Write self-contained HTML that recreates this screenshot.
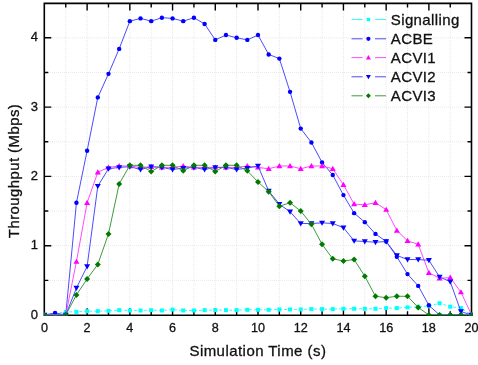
<!DOCTYPE html><html><head><meta charset="utf-8"><style>html,body{margin:0;padding:0;background:#fff;width:478px;height:365px;overflow:hidden}svg{display:block}text{font-family:"Liberation Sans",sans-serif;fill:#111;stroke:#111;stroke-width:0.3px}svg{will-change:transform}</style></head><body>
<svg width="478" height="365" viewBox="0 0 478 365">
<rect width="478" height="365" fill="#fff"/>
<path d="M65.76,4V314 M87.12,4V314 M108.48,4V314 M129.84,4V314 M151.20,4V314 M172.56,4V314 M193.92,4V314 M215.28,4V314 M236.64,4V314 M258.00,4V314 M279.36,4V314 M300.72,4V314 M322.08,4V314 M343.44,4V314 M364.80,4V314 M386.16,4V314 M407.52,4V314 M428.88,4V314 M450.24,4V314 M46,280.35H471 M46,245.70H471 M46,211.05H471 M46,176.40H471 M46,141.75H471 M46,107.10H471 M46,72.45H471 M46,37.80H471" stroke="#e8e8e8" stroke-width="1" stroke-dasharray="1 1" fill="none"/>
<path d="M44.3,3.4V315.3H471.5V3.4Z" fill="none" stroke="#000" stroke-width="1.6"/>
<path d="M65.76,315.3V311.3 M65.76,3.4V7.4 M87.12,315.3V308.3 M87.12,3.4V10.4 M108.48,315.3V311.3 M108.48,3.4V7.4 M129.84,315.3V308.3 M129.84,3.4V10.4 M151.20,315.3V311.3 M151.20,3.4V7.4 M172.56,315.3V308.3 M172.56,3.4V10.4 M193.92,315.3V311.3 M193.92,3.4V7.4 M215.28,315.3V308.3 M215.28,3.4V10.4 M236.64,315.3V311.3 M236.64,3.4V7.4 M258.00,315.3V308.3 M258.00,3.4V10.4 M279.36,315.3V311.3 M279.36,3.4V7.4 M300.72,315.3V308.3 M300.72,3.4V10.4 M322.08,315.3V311.3 M322.08,3.4V7.4 M343.44,315.3V308.3 M343.44,3.4V10.4 M364.80,315.3V311.3 M364.80,3.4V7.4 M386.16,315.3V308.3 M386.16,3.4V10.4 M407.52,315.3V311.3 M407.52,3.4V7.4 M428.88,315.3V308.3 M428.88,3.4V10.4 M450.24,315.3V311.3 M450.24,3.4V7.4 M44.3,280.35H48.3 M471.5,280.35H467.5 M44.3,245.70H51.3 M471.5,245.70H464.5 M44.3,211.05H48.3 M471.5,211.05H467.5 M44.3,176.40H51.3 M471.5,176.40H464.5 M44.3,141.75H48.3 M471.5,141.75H467.5 M44.3,107.10H51.3 M471.5,107.10H464.5 M44.3,72.45H48.3 M471.5,72.45H467.5 M44.3,37.80H51.3 M471.5,37.80H464.5" stroke="#000" stroke-width="1.4" fill="none"/>
<defs><clipPath id="cp"><rect x="44" y="2" width="429" height="313.5"/></clipPath></defs><g clip-path="url(#cp)">
<polyline points="44.40,315.00 55.08,313.61 65.76,311.88 76.44,311.88 87.12,311.19 97.80,311.19 108.48,310.84 119.16,310.15 129.84,310.50 140.52,310.50 151.20,310.15 161.88,310.50 172.56,309.59 183.24,310.50 193.92,310.50 204.60,310.15 215.28,310.15 225.96,310.15 236.64,310.15 247.32,309.80 258.00,309.80 268.68,309.80 279.36,309.46 290.04,309.46 300.72,309.46 311.40,309.11 322.08,309.11 332.76,309.11 343.44,308.76 354.12,308.76 364.80,308.76 375.48,308.76 386.16,308.07 396.84,308.07 407.52,307.38 418.20,306.68 428.88,305.99 439.56,303.22 450.24,306.68 460.92,308.07 471.60,315.00" fill="none" stroke="#33ffff" stroke-width="1" stroke-dasharray="3 2"/>
<rect x="42.40" y="313.00" width="4" height="4" fill="#00ffff"/>
<rect x="53.08" y="311.61" width="4" height="4" fill="#00ffff"/>
<rect x="63.76" y="309.88" width="4" height="4" fill="#00ffff"/>
<rect x="74.44" y="309.88" width="4" height="4" fill="#00ffff"/>
<rect x="85.12" y="309.19" width="4" height="4" fill="#00ffff"/>
<rect x="95.80" y="309.19" width="4" height="4" fill="#00ffff"/>
<rect x="106.48" y="308.84" width="4" height="4" fill="#00ffff"/>
<rect x="117.16" y="308.15" width="4" height="4" fill="#00ffff"/>
<rect x="127.84" y="308.50" width="4" height="4" fill="#00ffff"/>
<rect x="138.52" y="308.50" width="4" height="4" fill="#00ffff"/>
<rect x="149.20" y="308.15" width="4" height="4" fill="#00ffff"/>
<rect x="159.88" y="308.50" width="4" height="4" fill="#00ffff"/>
<rect x="170.56" y="307.59" width="4" height="4" fill="#00ffff"/>
<rect x="181.24" y="308.50" width="4" height="4" fill="#00ffff"/>
<rect x="191.92" y="308.50" width="4" height="4" fill="#00ffff"/>
<rect x="202.60" y="308.15" width="4" height="4" fill="#00ffff"/>
<rect x="213.28" y="308.15" width="4" height="4" fill="#00ffff"/>
<rect x="223.96" y="308.15" width="4" height="4" fill="#00ffff"/>
<rect x="234.64" y="308.15" width="4" height="4" fill="#00ffff"/>
<rect x="245.32" y="307.80" width="4" height="4" fill="#00ffff"/>
<rect x="256.00" y="307.80" width="4" height="4" fill="#00ffff"/>
<rect x="266.68" y="307.80" width="4" height="4" fill="#00ffff"/>
<rect x="277.36" y="307.46" width="4" height="4" fill="#00ffff"/>
<rect x="288.04" y="307.46" width="4" height="4" fill="#00ffff"/>
<rect x="298.72" y="307.46" width="4" height="4" fill="#00ffff"/>
<rect x="309.40" y="307.11" width="4" height="4" fill="#00ffff"/>
<rect x="320.08" y="307.11" width="4" height="4" fill="#00ffff"/>
<rect x="330.76" y="307.11" width="4" height="4" fill="#00ffff"/>
<rect x="341.44" y="306.76" width="4" height="4" fill="#00ffff"/>
<rect x="352.12" y="306.76" width="4" height="4" fill="#00ffff"/>
<rect x="362.80" y="306.76" width="4" height="4" fill="#00ffff"/>
<rect x="373.48" y="306.76" width="4" height="4" fill="#00ffff"/>
<rect x="384.16" y="306.07" width="4" height="4" fill="#00ffff"/>
<rect x="394.84" y="306.07" width="4" height="4" fill="#00ffff"/>
<rect x="405.52" y="305.38" width="4" height="4" fill="#00ffff"/>
<rect x="416.20" y="304.68" width="4" height="4" fill="#00ffff"/>
<rect x="426.88" y="303.99" width="4" height="4" fill="#00ffff"/>
<rect x="437.56" y="301.22" width="4" height="4" fill="#00ffff"/>
<rect x="448.24" y="304.68" width="4" height="4" fill="#00ffff"/>
<rect x="458.92" y="306.07" width="4" height="4" fill="#00ffff"/>
<rect x="469.60" y="313.00" width="4" height="4" fill="#00ffff"/>
<polyline points="44.40,315.00 55.08,312.92 65.76,315.00 76.44,202.73 87.12,150.76 97.80,97.40 108.48,73.84 119.16,48.89 129.84,21.17 140.52,18.40 151.20,21.17 161.88,17.70 172.56,18.40 183.24,21.17 193.92,17.70 204.60,23.94 215.28,39.88 225.96,35.03 236.64,37.80 247.32,39.88 258.00,35.03 268.68,54.43 279.36,58.59 290.04,91.85 300.72,128.58 311.40,142.44 322.08,162.54 332.76,175.01 343.44,195.11 354.12,213.13 364.80,222.14 375.48,233.92 386.16,241.54 396.84,256.79 407.52,274.11 418.20,285.89 428.88,305.30 439.56,315.00 450.24,315.00 460.92,315.00 471.60,315.00" fill="none" stroke="#4b4bff" stroke-width="1"/>
<circle cx="44.40" cy="315.00" r="2.2" fill="#0000ff"/>
<circle cx="55.08" cy="312.92" r="2.2" fill="#0000ff"/>
<circle cx="65.76" cy="315.00" r="2.2" fill="#0000ff"/>
<circle cx="76.44" cy="202.73" r="2.2" fill="#0000ff"/>
<circle cx="87.12" cy="150.76" r="2.2" fill="#0000ff"/>
<circle cx="97.80" cy="97.40" r="2.2" fill="#0000ff"/>
<circle cx="108.48" cy="73.84" r="2.2" fill="#0000ff"/>
<circle cx="119.16" cy="48.89" r="2.2" fill="#0000ff"/>
<circle cx="129.84" cy="21.17" r="2.2" fill="#0000ff"/>
<circle cx="140.52" cy="18.40" r="2.2" fill="#0000ff"/>
<circle cx="151.20" cy="21.17" r="2.2" fill="#0000ff"/>
<circle cx="161.88" cy="17.70" r="2.2" fill="#0000ff"/>
<circle cx="172.56" cy="18.40" r="2.2" fill="#0000ff"/>
<circle cx="183.24" cy="21.17" r="2.2" fill="#0000ff"/>
<circle cx="193.92" cy="17.70" r="2.2" fill="#0000ff"/>
<circle cx="204.60" cy="23.94" r="2.2" fill="#0000ff"/>
<circle cx="215.28" cy="39.88" r="2.2" fill="#0000ff"/>
<circle cx="225.96" cy="35.03" r="2.2" fill="#0000ff"/>
<circle cx="236.64" cy="37.80" r="2.2" fill="#0000ff"/>
<circle cx="247.32" cy="39.88" r="2.2" fill="#0000ff"/>
<circle cx="258.00" cy="35.03" r="2.2" fill="#0000ff"/>
<circle cx="268.68" cy="54.43" r="2.2" fill="#0000ff"/>
<circle cx="279.36" cy="58.59" r="2.2" fill="#0000ff"/>
<circle cx="290.04" cy="91.85" r="2.2" fill="#0000ff"/>
<circle cx="300.72" cy="128.58" r="2.2" fill="#0000ff"/>
<circle cx="311.40" cy="142.44" r="2.2" fill="#0000ff"/>
<circle cx="322.08" cy="162.54" r="2.2" fill="#0000ff"/>
<circle cx="332.76" cy="175.01" r="2.2" fill="#0000ff"/>
<circle cx="343.44" cy="195.11" r="2.2" fill="#0000ff"/>
<circle cx="354.12" cy="213.13" r="2.2" fill="#0000ff"/>
<circle cx="364.80" cy="222.14" r="2.2" fill="#0000ff"/>
<circle cx="375.48" cy="233.92" r="2.2" fill="#0000ff"/>
<circle cx="386.16" cy="241.54" r="2.2" fill="#0000ff"/>
<circle cx="396.84" cy="256.79" r="2.2" fill="#0000ff"/>
<circle cx="407.52" cy="274.11" r="2.2" fill="#0000ff"/>
<circle cx="418.20" cy="285.89" r="2.2" fill="#0000ff"/>
<circle cx="428.88" cy="305.30" r="2.2" fill="#0000ff"/>
<circle cx="439.56" cy="315.00" r="2.2" fill="#0000ff"/>
<circle cx="450.24" cy="315.00" r="2.2" fill="#0000ff"/>
<circle cx="460.92" cy="315.00" r="2.2" fill="#0000ff"/>
<circle cx="471.60" cy="315.00" r="2.2" fill="#0000ff"/>
<polyline points="44.40,315.00 55.08,315.00 65.76,315.00 76.44,261.64 87.12,202.73 97.80,172.24 108.48,167.39 119.16,166.01 129.84,166.01 140.52,167.39 151.20,166.70 161.88,167.39 172.56,167.39 183.24,166.01 193.92,167.39 204.60,167.39 215.28,167.39 225.96,167.39 236.64,167.39 247.32,166.01 258.00,167.39 268.68,168.78 279.36,166.01 290.04,166.01 300.72,168.78 311.40,166.01 322.08,166.01 332.76,168.78 343.44,184.72 354.12,204.12 364.80,204.81 375.48,202.73 386.16,209.66 396.84,230.45 407.52,240.85 418.20,244.31 428.88,272.73 439.56,278.27 450.24,277.58 460.92,292.13 471.60,315.00" fill="none" stroke="#ff4bff" stroke-width="1"/>
<path d="M44.40,312.00L47.40,317.20L41.40,317.20Z" fill="#ff00ff"/>
<path d="M65.76,312.00L68.76,317.20L62.76,317.20Z" fill="#ff00ff"/>
<path d="M76.44,258.64L79.44,263.84L73.44,263.84Z" fill="#ff00ff"/>
<path d="M87.12,199.73L90.12,204.93L84.12,204.93Z" fill="#ff00ff"/>
<path d="M97.80,169.24L100.80,174.44L94.80,174.44Z" fill="#ff00ff"/>
<path d="M108.48,164.39L111.48,169.59L105.48,169.59Z" fill="#ff00ff"/>
<path d="M119.16,163.01L122.16,168.21L116.16,168.21Z" fill="#ff00ff"/>
<path d="M129.84,163.01L132.84,168.21L126.84,168.21Z" fill="#ff00ff"/>
<path d="M140.52,164.39L143.52,169.59L137.52,169.59Z" fill="#ff00ff"/>
<path d="M151.20,163.70L154.20,168.90L148.20,168.90Z" fill="#ff00ff"/>
<path d="M161.88,164.39L164.88,169.59L158.88,169.59Z" fill="#ff00ff"/>
<path d="M172.56,164.39L175.56,169.59L169.56,169.59Z" fill="#ff00ff"/>
<path d="M183.24,163.01L186.24,168.21L180.24,168.21Z" fill="#ff00ff"/>
<path d="M193.92,164.39L196.92,169.59L190.92,169.59Z" fill="#ff00ff"/>
<path d="M204.60,164.39L207.60,169.59L201.60,169.59Z" fill="#ff00ff"/>
<path d="M215.28,164.39L218.28,169.59L212.28,169.59Z" fill="#ff00ff"/>
<path d="M225.96,164.39L228.96,169.59L222.96,169.59Z" fill="#ff00ff"/>
<path d="M236.64,164.39L239.64,169.59L233.64,169.59Z" fill="#ff00ff"/>
<path d="M247.32,163.01L250.32,168.21L244.32,168.21Z" fill="#ff00ff"/>
<path d="M258.00,164.39L261.00,169.59L255.00,169.59Z" fill="#ff00ff"/>
<path d="M268.68,165.78L271.68,170.98L265.68,170.98Z" fill="#ff00ff"/>
<path d="M279.36,163.01L282.36,168.21L276.36,168.21Z" fill="#ff00ff"/>
<path d="M290.04,163.01L293.04,168.21L287.04,168.21Z" fill="#ff00ff"/>
<path d="M300.72,165.78L303.72,170.98L297.72,170.98Z" fill="#ff00ff"/>
<path d="M311.40,163.01L314.40,168.21L308.40,168.21Z" fill="#ff00ff"/>
<path d="M322.08,163.01L325.08,168.21L319.08,168.21Z" fill="#ff00ff"/>
<path d="M332.76,165.78L335.76,170.98L329.76,170.98Z" fill="#ff00ff"/>
<path d="M343.44,181.72L346.44,186.92L340.44,186.92Z" fill="#ff00ff"/>
<path d="M354.12,201.12L357.12,206.32L351.12,206.32Z" fill="#ff00ff"/>
<path d="M364.80,201.81L367.80,207.01L361.80,207.01Z" fill="#ff00ff"/>
<path d="M375.48,199.73L378.48,204.93L372.48,204.93Z" fill="#ff00ff"/>
<path d="M386.16,206.66L389.16,211.86L383.16,211.86Z" fill="#ff00ff"/>
<path d="M396.84,227.45L399.84,232.65L393.84,232.65Z" fill="#ff00ff"/>
<path d="M407.52,237.85L410.52,243.05L404.52,243.05Z" fill="#ff00ff"/>
<path d="M418.20,241.31L421.20,246.51L415.20,246.51Z" fill="#ff00ff"/>
<path d="M428.88,269.73L431.88,274.93L425.88,274.93Z" fill="#ff00ff"/>
<path d="M439.56,275.27L442.56,280.47L436.56,280.47Z" fill="#ff00ff"/>
<path d="M450.24,274.58L453.24,279.78L447.24,279.78Z" fill="#ff00ff"/>
<path d="M460.92,289.13L463.92,294.33L457.92,294.33Z" fill="#ff00ff"/>
<path d="M471.60,312.00L474.60,317.20L468.60,317.20Z" fill="#ff00ff"/>
<polyline points="44.40,315.00 55.08,315.00 65.76,315.00 76.44,287.97 87.12,266.49 97.80,186.10 108.48,168.78 119.16,167.39 129.84,166.70 140.52,169.47 151.20,166.70 161.88,167.39 172.56,169.47 183.24,168.08 193.92,167.39 204.60,169.47 215.28,167.39 225.96,167.39 236.64,169.47 247.32,168.08 258.00,166.01 268.68,190.95 279.36,204.12 290.04,211.74 300.72,223.52 311.40,223.52 322.08,222.83 332.76,223.52 343.44,227.68 354.12,240.85 364.80,241.54 375.48,242.24 386.16,241.54 396.84,255.40 407.52,259.56 418.20,259.56 428.88,260.25 439.56,276.88 450.24,281.74 460.92,311.54 471.60,315.00" fill="none" stroke="#4b4bff" stroke-width="1"/>
<path d="M44.40,318.00L47.40,312.80L41.40,312.80Z" fill="#0000ff"/>
<path d="M65.76,318.00L68.76,312.80L62.76,312.80Z" fill="#0000ff"/>
<path d="M76.44,290.97L79.44,285.77L73.44,285.77Z" fill="#0000ff"/>
<path d="M87.12,269.49L90.12,264.29L84.12,264.29Z" fill="#0000ff"/>
<path d="M97.80,189.10L100.80,183.90L94.80,183.90Z" fill="#0000ff"/>
<path d="M108.48,171.78L111.48,166.58L105.48,166.58Z" fill="#0000ff"/>
<path d="M119.16,170.39L122.16,165.19L116.16,165.19Z" fill="#0000ff"/>
<path d="M129.84,169.70L132.84,164.50L126.84,164.50Z" fill="#0000ff"/>
<path d="M140.52,172.47L143.52,167.27L137.52,167.27Z" fill="#0000ff"/>
<path d="M151.20,169.70L154.20,164.50L148.20,164.50Z" fill="#0000ff"/>
<path d="M161.88,170.39L164.88,165.19L158.88,165.19Z" fill="#0000ff"/>
<path d="M172.56,172.47L175.56,167.27L169.56,167.27Z" fill="#0000ff"/>
<path d="M183.24,171.08L186.24,165.88L180.24,165.88Z" fill="#0000ff"/>
<path d="M193.92,170.39L196.92,165.19L190.92,165.19Z" fill="#0000ff"/>
<path d="M204.60,172.47L207.60,167.27L201.60,167.27Z" fill="#0000ff"/>
<path d="M215.28,170.39L218.28,165.19L212.28,165.19Z" fill="#0000ff"/>
<path d="M225.96,170.39L228.96,165.19L222.96,165.19Z" fill="#0000ff"/>
<path d="M236.64,172.47L239.64,167.27L233.64,167.27Z" fill="#0000ff"/>
<path d="M247.32,171.08L250.32,165.88L244.32,165.88Z" fill="#0000ff"/>
<path d="M258.00,169.01L261.00,163.81L255.00,163.81Z" fill="#0000ff"/>
<path d="M268.68,193.95L271.68,188.75L265.68,188.75Z" fill="#0000ff"/>
<path d="M279.36,207.12L282.36,201.92L276.36,201.92Z" fill="#0000ff"/>
<path d="M290.04,214.74L293.04,209.54L287.04,209.54Z" fill="#0000ff"/>
<path d="M300.72,226.52L303.72,221.32L297.72,221.32Z" fill="#0000ff"/>
<path d="M311.40,226.52L314.40,221.32L308.40,221.32Z" fill="#0000ff"/>
<path d="M322.08,225.83L325.08,220.63L319.08,220.63Z" fill="#0000ff"/>
<path d="M332.76,226.52L335.76,221.32L329.76,221.32Z" fill="#0000ff"/>
<path d="M343.44,230.68L346.44,225.48L340.44,225.48Z" fill="#0000ff"/>
<path d="M354.12,243.85L357.12,238.65L351.12,238.65Z" fill="#0000ff"/>
<path d="M364.80,244.54L367.80,239.34L361.80,239.34Z" fill="#0000ff"/>
<path d="M375.48,245.24L378.48,240.04L372.48,240.04Z" fill="#0000ff"/>
<path d="M386.16,244.54L389.16,239.34L383.16,239.34Z" fill="#0000ff"/>
<path d="M396.84,258.40L399.84,253.20L393.84,253.20Z" fill="#0000ff"/>
<path d="M407.52,262.56L410.52,257.36L404.52,257.36Z" fill="#0000ff"/>
<path d="M418.20,262.56L421.20,257.36L415.20,257.36Z" fill="#0000ff"/>
<path d="M428.88,263.25L431.88,258.05L425.88,258.05Z" fill="#0000ff"/>
<path d="M439.56,279.88L442.56,274.69L436.56,274.69Z" fill="#0000ff"/>
<path d="M450.24,284.74L453.24,279.54L447.24,279.54Z" fill="#0000ff"/>
<path d="M460.92,314.54L463.92,309.34L457.92,309.34Z" fill="#0000ff"/>
<path d="M471.60,318.00L474.60,312.80L468.60,312.80Z" fill="#0000ff"/>
<polyline points="44.40,315.00 55.08,315.00 65.76,315.00 76.44,294.90 87.12,278.96 97.80,264.41 108.48,233.92 119.16,184.02 129.84,165.31 140.52,165.31 151.20,171.55 161.88,165.31 172.56,165.31 183.24,170.86 193.92,165.31 204.60,165.31 215.28,171.55 225.96,165.31 236.64,165.31 247.32,170.86 258.00,181.94 268.68,191.65 279.36,206.20 290.04,202.73 300.72,211.05 311.40,224.22 322.08,244.31 332.76,258.87 343.44,260.95 354.12,259.56 364.80,276.19 375.48,296.29 386.16,297.68 396.84,296.29 407.52,296.29 418.20,307.38 428.88,315.00 439.56,315.00 450.24,315.00 460.92,315.00 471.60,315.00" fill="none" stroke="#3f9a3f" stroke-width="1"/>
<path d="M44.40,312.00L47.40,315.00L44.40,318.00L41.40,315.00Z" fill="#007a00"/>
<path d="M65.76,312.00L68.76,315.00L65.76,318.00L62.76,315.00Z" fill="#007a00"/>
<path d="M76.44,291.90L79.44,294.90L76.44,297.90L73.44,294.90Z" fill="#007a00"/>
<path d="M87.12,275.96L90.12,278.96L87.12,281.96L84.12,278.96Z" fill="#007a00"/>
<path d="M97.80,261.41L100.80,264.41L97.80,267.41L94.80,264.41Z" fill="#007a00"/>
<path d="M108.48,230.92L111.48,233.92L108.48,236.92L105.48,233.92Z" fill="#007a00"/>
<path d="M119.16,181.02L122.16,184.02L119.16,187.02L116.16,184.02Z" fill="#007a00"/>
<path d="M129.84,162.31L132.84,165.31L129.84,168.31L126.84,165.31Z" fill="#007a00"/>
<path d="M140.52,162.31L143.52,165.31L140.52,168.31L137.52,165.31Z" fill="#007a00"/>
<path d="M151.20,168.55L154.20,171.55L151.20,174.55L148.20,171.55Z" fill="#007a00"/>
<path d="M161.88,162.31L164.88,165.31L161.88,168.31L158.88,165.31Z" fill="#007a00"/>
<path d="M172.56,162.31L175.56,165.31L172.56,168.31L169.56,165.31Z" fill="#007a00"/>
<path d="M183.24,167.86L186.24,170.86L183.24,173.86L180.24,170.86Z" fill="#007a00"/>
<path d="M193.92,162.31L196.92,165.31L193.92,168.31L190.92,165.31Z" fill="#007a00"/>
<path d="M204.60,162.31L207.60,165.31L204.60,168.31L201.60,165.31Z" fill="#007a00"/>
<path d="M215.28,168.55L218.28,171.55L215.28,174.55L212.28,171.55Z" fill="#007a00"/>
<path d="M225.96,162.31L228.96,165.31L225.96,168.31L222.96,165.31Z" fill="#007a00"/>
<path d="M236.64,162.31L239.64,165.31L236.64,168.31L233.64,165.31Z" fill="#007a00"/>
<path d="M247.32,167.86L250.32,170.86L247.32,173.86L244.32,170.86Z" fill="#007a00"/>
<path d="M258.00,178.94L261.00,181.94L258.00,184.94L255.00,181.94Z" fill="#007a00"/>
<path d="M268.68,188.65L271.68,191.65L268.68,194.65L265.68,191.65Z" fill="#007a00"/>
<path d="M279.36,203.20L282.36,206.20L279.36,209.20L276.36,206.20Z" fill="#007a00"/>
<path d="M290.04,199.73L293.04,202.73L290.04,205.73L287.04,202.73Z" fill="#007a00"/>
<path d="M300.72,208.05L303.72,211.05L300.72,214.05L297.72,211.05Z" fill="#007a00"/>
<path d="M311.40,221.22L314.40,224.22L311.40,227.22L308.40,224.22Z" fill="#007a00"/>
<path d="M322.08,241.31L325.08,244.31L322.08,247.31L319.08,244.31Z" fill="#007a00"/>
<path d="M332.76,255.87L335.76,258.87L332.76,261.87L329.76,258.87Z" fill="#007a00"/>
<path d="M343.44,257.95L346.44,260.95L343.44,263.95L340.44,260.95Z" fill="#007a00"/>
<path d="M354.12,256.56L357.12,259.56L354.12,262.56L351.12,259.56Z" fill="#007a00"/>
<path d="M364.80,273.19L367.80,276.19L364.80,279.19L361.80,276.19Z" fill="#007a00"/>
<path d="M375.48,293.29L378.48,296.29L375.48,299.29L372.48,296.29Z" fill="#007a00"/>
<path d="M386.16,294.68L389.16,297.68L386.16,300.68L383.16,297.68Z" fill="#007a00"/>
<path d="M396.84,293.29L399.84,296.29L396.84,299.29L393.84,296.29Z" fill="#007a00"/>
<path d="M407.52,293.29L410.52,296.29L407.52,299.29L404.52,296.29Z" fill="#007a00"/>
<path d="M418.20,304.38L421.20,307.38L418.20,310.38L415.20,307.38Z" fill="#007a00"/>
<path d="M428.88,312.00L431.88,315.00L428.88,318.00L425.88,315.00Z" fill="#007a00"/>
<path d="M439.56,312.00L442.56,315.00L439.56,318.00L436.56,315.00Z" fill="#007a00"/>
<path d="M450.24,312.00L453.24,315.00L450.24,318.00L447.24,315.00Z" fill="#007a00"/>
<path d="M460.92,312.00L463.92,315.00L460.92,318.00L457.92,315.00Z" fill="#007a00"/>
<path d="M471.60,312.00L474.60,315.00L471.60,318.00L468.60,315.00Z" fill="#007a00"/>
</g>
<text x="44.40" y="332" font-size="12.6" text-anchor="middle">0</text>
<text x="87.12" y="332" font-size="12.6" text-anchor="middle">2</text>
<text x="129.84" y="332" font-size="12.6" text-anchor="middle">4</text>
<text x="172.56" y="332" font-size="12.6" text-anchor="middle">6</text>
<text x="215.28" y="332" font-size="12.6" text-anchor="middle">8</text>
<text x="258.00" y="332" font-size="12.6" text-anchor="middle">10</text>
<text x="300.72" y="332" font-size="12.6" text-anchor="middle">12</text>
<text x="343.44" y="332" font-size="12.6" text-anchor="middle">14</text>
<text x="386.16" y="332" font-size="12.6" text-anchor="middle">16</text>
<text x="428.88" y="332" font-size="12.6" text-anchor="middle">18</text>
<text x="471.60" y="332" font-size="12.6" text-anchor="middle">20</text>
<text x="38" y="318.60" font-size="13" text-anchor="end">0</text>
<text x="38" y="249.30" font-size="13" text-anchor="end">1</text>
<text x="38" y="180.00" font-size="13" text-anchor="end">2</text>
<text x="38" y="110.70" font-size="13" text-anchor="end">3</text>
<text x="38" y="41.40" font-size="13" text-anchor="end">4</text>
<text x="257.9" y="356.4" font-size="15" letter-spacing="0.45" text-anchor="middle">Simulation Time (s)</text>
<text transform="translate(19.0,171) rotate(-90)" font-size="15" letter-spacing="0.4" text-anchor="middle">Throughput (Mbps)</text>
<path d="M351.5,19.5H362.6M375,19.5H386" stroke="#33ffff" stroke-width="1"/>
<rect x="366.70" y="17.80" width="3.4" height="3.4" fill="#00ffff"/>
<text x="390.8" y="24.80" font-size="15" letter-spacing="0.38">Signalling</text>
<path d="M351.5,38.8H362.6M375,38.8H386" stroke="#4b4bff" stroke-width="1"/>
<circle cx="368.4" cy="38.8" r="2.1" fill="#0000ff"/>
<text x="390.8" y="44.10" font-size="15" letter-spacing="0.38">ACBE</text>
<path d="M351.5,57.6H362.6M375,57.6H386" stroke="#ff4bff" stroke-width="1"/>
<path d="M368.4,55.1L370.9,59.4L365.9,59.4Z" fill="#ff00ff"/>
<text x="390.8" y="62.90" font-size="15" letter-spacing="0.38">ACVI1</text>
<path d="M351.5,76.8H362.6M375,76.8H386" stroke="#4b4bff" stroke-width="1"/>
<path d="M368.4,79.3L370.9,75.0L365.9,75.0Z" fill="#0000ff"/>
<text x="390.8" y="82.10" font-size="15" letter-spacing="0.38">ACVI2</text>
<path d="M351.5,95.8H362.6M375,95.8H386" stroke="#3f9a3f" stroke-width="1"/>
<path d="M368.4,93.3L370.9,95.8L368.4,98.3L365.9,95.8Z" fill="#007a00"/>
<text x="390.8" y="101.10" font-size="15" letter-spacing="0.38">ACVI3</text>
</svg></body></html>
